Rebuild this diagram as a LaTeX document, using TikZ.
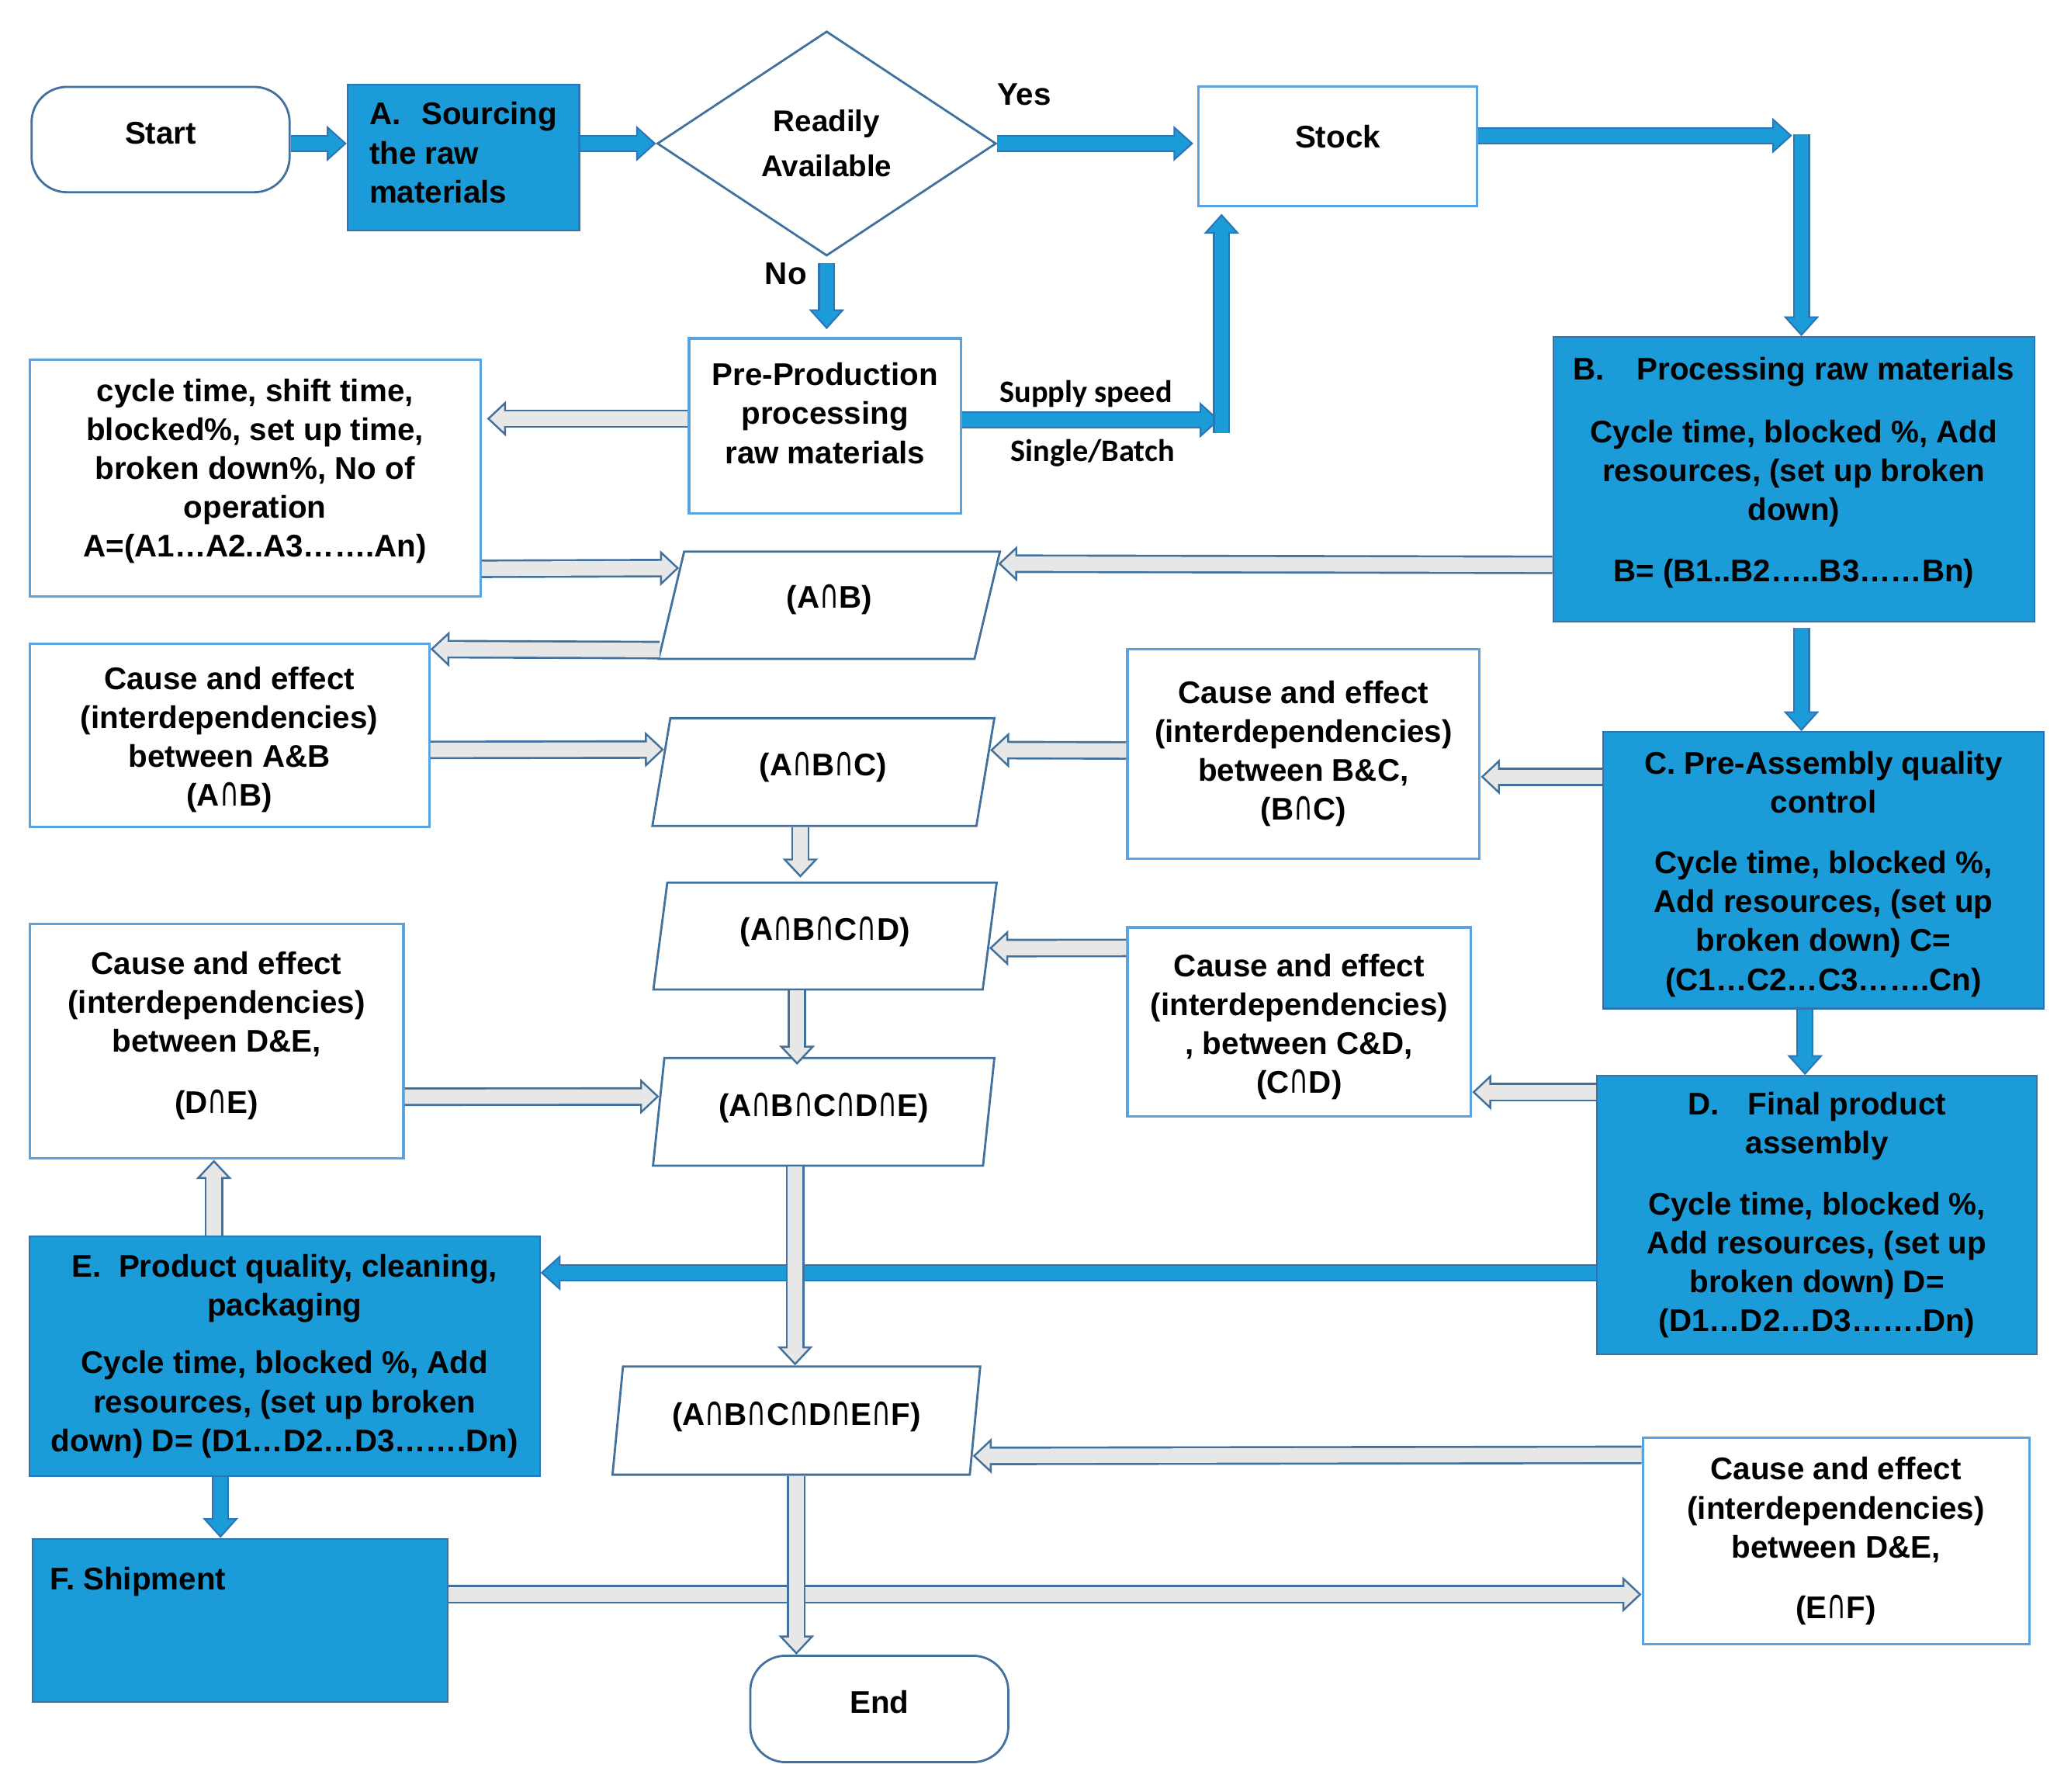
\documentclass[tikz,border=0pt]{standalone}
\usepackage{graphicx}
\usepackage{fontspec}
\setmainfont{Liberation Sans}
\newfontfamily\calfont{Carlito}
\newfontfamily\symfont{DejaVu Sans}
\usetikzlibrary{shapes.geometric,arrows.meta,calc}

\definecolor{boxblue}{RGB}{27,155,215}
\definecolor{boxedge}{RGB}{46,117,182}
\definecolor{lightedge}{RGB}{91,163,224}
\definecolor{darkedge}{RGB}{65,113,156}
\definecolor{hollowfill}{RGB}{231,231,231}

\newcommand{\isect}{{\symfont\mdseries\scalebox{0.85}[1.3]{∩}}}
\newcommand{\nudge}[2]{\raisebox{#1}[\height][\depth]{#2}}
\newcommand{\lifted}[2]{\nudge{#1}{\begin{tabular}{@{}c@{}}#2\end{tabular}}}

\tikzset{
  txt/.style={font=\bfseries\fontsize{11.5}{14.3}\selectfont, align=center, inner sep=0pt},
  procbox/.style={txt, rectangle, fill=boxblue, draw=boxedge, line width=0.6pt},
  infobox/.style={txt, rectangle, draw=lightedge, line width=0.9pt, fill=white},
  term/.style={txt, rectangle, rounded corners=13pt, draw=darkedge, line width=0.8pt},
  setbox/.style={txt, trapezium, trapezium left angle=76, trapezium right angle=104,
    trapezium stretches=true, draw=darkedge, line width=0.8pt, fill=white},
  decide/.style={txt, diamond, draw=darkedge, line width=0.8pt},
  flow/.style={draw=boxedge, line width=6.3pt,
    -{Triangle[length=7.3pt, width=13pt, line width=0.6pt, fill=boxblue]},
    postaction={draw=boxblue, line width=5pt, -, shorten >=6.5pt}},
  hollow/.style={draw=darkedge, line width=6.8pt,
    -{Triangle[length=7pt, width=13pt, line width=0.7pt, fill=hollowfill]},
    postaction={draw=hollowfill, line width=5.3pt, -, shorten >=6pt}},
}

\begin{document}
\begin{tikzpicture}[x=0.017cm, y=-0.017cm]
\useasboundingbox (0,0) rectangle (1568,1361);

% top row
\node[term, minimum width=3.332cm, minimum height=1.36cm] (start) at (122,106) {\nudge{2.4pt}{Start}};
\node[procbox, minimum width=2.992cm, minimum height=1.887cm] (srcA) at (352,119.5) {\nudge{0.5pt}{\begin{tabular}{@{}l@{}}A.\hspace{7.7pt}Sourcing\\the raw\\materials\end{tabular}}};
\node[decide, minimum width=4.378cm, minimum height=2.899cm, font=\bfseries\fontsize{11}{16.4}\selectfont] (ready) at (628,109) {Readily\\Available};
\node[infobox, minimum width=3.596cm, minimum height=1.547cm] (stock) at (1016.25,111) {\nudge{3.4pt}{Stock}};
\node[txt] (yes) at (778,72) {Yes};
\node[txt] (no) at (597,208) {No};

% pre-production
\node[infobox, minimum width=3.511cm, minimum height=2.261cm] (prepro) at (626.75,323.5) {\lifted{3.4pt}{Pre-Production\\processing\\raw materials}};
\node[font=\calfont\bfseries\fontsize{11.5}{14}\selectfont] (speed) at (825,299) {Supply speed};
\node[font=\calfont\bfseries\fontsize{11.5}{14}\selectfont] (batch) at (830,344) {Single/Batch};
\node[infobox, minimum width=5.823cm, minimum height=3.06cm] (parA) at (193.75,363) {\lifted{2.4pt}{cycle time, shift time,\\blocked\%, set up time,\\broken down\%, No of\\operation\\A=(A1…A2..A3…….An)}};

% process boxes
\node[procbox, minimum width=6.214cm, minimum height=3.679cm] (procB) at (1362.75,364.2) {\lifted{2.4pt}{B.\hspace{12pt}Processing raw materials\\[8.7pt]Cycle time, blocked \%, Add\\resources, (set up broken\\down)\\[8pt]B= (B1..B2…..B3……Bn)}};
\node[procbox, minimum width=5.687cm, minimum height=3.57cm] (qcC) at (1385.25,661) {\lifted{-1.5pt}{C. Pre-Assembly quality\\control\\[8pt]Cycle time, blocked \%,\\Add resources, (set up\\broken down) C=\\(C1…C2…C3…….Cn)}};
\node[procbox, minimum width=5.687cm, minimum height=3.599cm] (asmD) at (1380.25,923) {D.\hspace{10.6pt}Final product\\assembly\\[8pt]Cycle time, blocked \%,\\Add resources, (set up\\broken down) D=\\(D1…D2…D3…….Dn)};
\node[procbox, minimum width=6.588cm, minimum height=3.097cm] (pqE) at (216.25,1029.9) {E.\hspace{6.3pt}Product quality, cleaning,\\packaging\\[7pt]Cycle time, blocked \%, Add\\resources, (set up broken\\down) D= (D1…D2…D3…….Dn)};
\node[procbox, minimum width=5.355cm, minimum height=2.108cm,
  label={[txt, anchor=north west, xshift=6.5pt, yshift=-10.5pt]north west:F. Shipment}] (shipF) at (182.5,1230.75) {};

% intersections
\node[setbox, minimum width=4.42cm, minimum height=1.384cm] (ab) at (630,459.7) {\nudge{2pt}{(A\isect B)}};
\node[setbox, minimum width=4.437cm, minimum height=1.391cm] (abc) at (625.5,586.4) {\nudge{1.7pt}{(A\isect B\isect C)}};
\node[setbox, minimum width=4.446cm, minimum height=1.38cm] (abcd) at (626.75,711) {\nudge{1.7pt}{(A\isect B\isect C\isect D)}};
\node[setbox, minimum width=4.446cm, minimum height=1.391cm] (abcde) at (625.75,844.5) {\nudge{1.5pt}{(A\isect B\isect C\isect D\isect E)}};
\node[setbox, minimum width=4.76cm, minimum height=1.396cm] (abcdef) at (605,1079) {\nudge{1.5pt}{(A\isect B\isect C\isect D\isect E\isect F)}};

% cause and effect
\node[infobox, minimum width=5.16cm, minimum height=2.363cm] (ceAB) at (174.25,558.5) {\lifted{-1.7pt}{Cause and effect\\(interdependencies)\\between A\&B\\(A\isect B)}};
\node[infobox, minimum width=4.548cm, minimum height=2.703cm] (ceBC) at (990.25,572.5) {Cause and effect\\(interdependencies)\\between B\&C,\\(B\isect C)};
\node[infobox, minimum width=4.437cm, minimum height=2.438cm] (ceCD) at (987,776.1) {\lifted{-2pt}{Cause and effect\\(interdependencies)\\, between C\&D,\\(C\isect D)}};
\node[infobox, minimum width=4.828cm, minimum height=3.026cm] (ceDE) at (164.5,791) {\lifted{2pt}{Cause and effect\\(interdependencies)\\between D\&E,\\[8pt](D\isect E)}};
\node[infobox, minimum width=4.99cm, minimum height=2.669cm] (ceEF) at (1394.75,1170.5) {Cause and effect\\(interdependencies)\\between D\&E,\\[8pt](E\isect F)};

\node[term, minimum width=3.332cm, minimum height=1.374cm] (theend) at (668,1298) {\nudge{2.4pt}{End}};

% blue flow
\coordinate (kneeS) at (1368.5,103);
\coordinate (kneeP) at (928,319);
\draw[flow] (start.east |- ready.west) -- (srcA.west |- ready.west);
\draw[flow] (srcA.east |- ready.west) -- (ready.west);
\draw[flow] (ready.east) -- ($(stock.west |- ready.east)+(-3,0)$);
\draw[flow] (stock.east |- kneeS) -- ($(kneeS)+(-7,0)$);
\draw[flow] ($(kneeS)+(0,-1)$) -- (kneeS |- procB.north);
\draw[flow] ($(ready.south)+(0,5)$) -- ($(ready.south |- prepro.north)+(0,-6)$);
\draw[flow] (prepro.east |- kneeP) -- ($(kneeP)+(-1.5,0)$);
\draw[flow] ($(kneeP)+(0,10)$) -- ($(kneeP |- stock.south)+(0,5)$);
\draw[flow] ($(kneeS |- procB.south)+(0,4)$) -- (kneeS |- qcC.north);
\draw[flow] ($(qcC.south)+(-14,0)$) -- ($(qcC.south |- asmD.north)+(-14,0)$);
\draw[flow] (asmD.west |- 0,966.7) -- (pqE.east |- 0,966.7);
\draw[flow] (pqE.south -| 167.5,0) -- (shipF.north -| 167.5,0);

% hollow links
\draw[hollow] (prepro.west |- 0,318) -- ($(parA.east |- 0,318)+(4,0)$);
\draw[hollow] (parA.east |- 0,432) -- ($(ab.top left corner)!.16!(ab.bottom left corner)$);
\draw[hollow] (procB.west |- 0,429) -- ($(ab.top right corner)!.12!(ab.bottom right corner)$);
\draw[hollow] ($(ab.top left corner)!.91!(ab.bottom left corner)$) -- (ceAB.east |- 0,493);
\draw[hollow] (ceAB.east |- 0,569.6) -- ($(abc.top left corner)!.295!(abc.bottom left corner)$);
\draw[hollow] (ceBC.west |- 0,570) -- ($(abc.top right corner)!.3!(abc.bottom right corner)$);
\draw[hollow] (qcC.west |- 0,590) -- (ceBC.east |- 0,590);
\draw[hollow] (abc.south -| 608,0) -- ($(abcd.north -| 608,0)+(0,-3)$);
\draw[hollow] (ceCD.west |- 0,720) -- ($(abcd.top right corner)!.61!(abcd.bottom right corner)$);
\draw[hollow] (asmD.west |- 0,829.5) -- (ceCD.east |- 0,829.5);
\draw[hollow] (abcd.south -| 605.5,0) -- ($(abcde.north -| 605.5,0)+(0,6)$);
\draw[hollow] (ceDE.east |- 0,833) -- ($(abcde.top left corner)!.36!(abcde.bottom left corner)$);
\draw[hollow] (pqE.north -| 162.5,0) -- (ceDE.south -| 162.5,0);
\draw[hollow] (abcde.south -| 604,0) -- (abcdef.north -| 604,0);
\draw[hollow] (ceEF.west |- 0,1105) -- ($(abcdef.top right corner)!.82!(abcdef.bottom right corner)$);
\draw[hollow] (shipF.east |- 0,1211) -- (ceEF.west |- 0,1211);
\draw[hollow] (abcdef.south -| 605,0) -- (theend.north -| 605,0);
\end{tikzpicture}
\end{document}
